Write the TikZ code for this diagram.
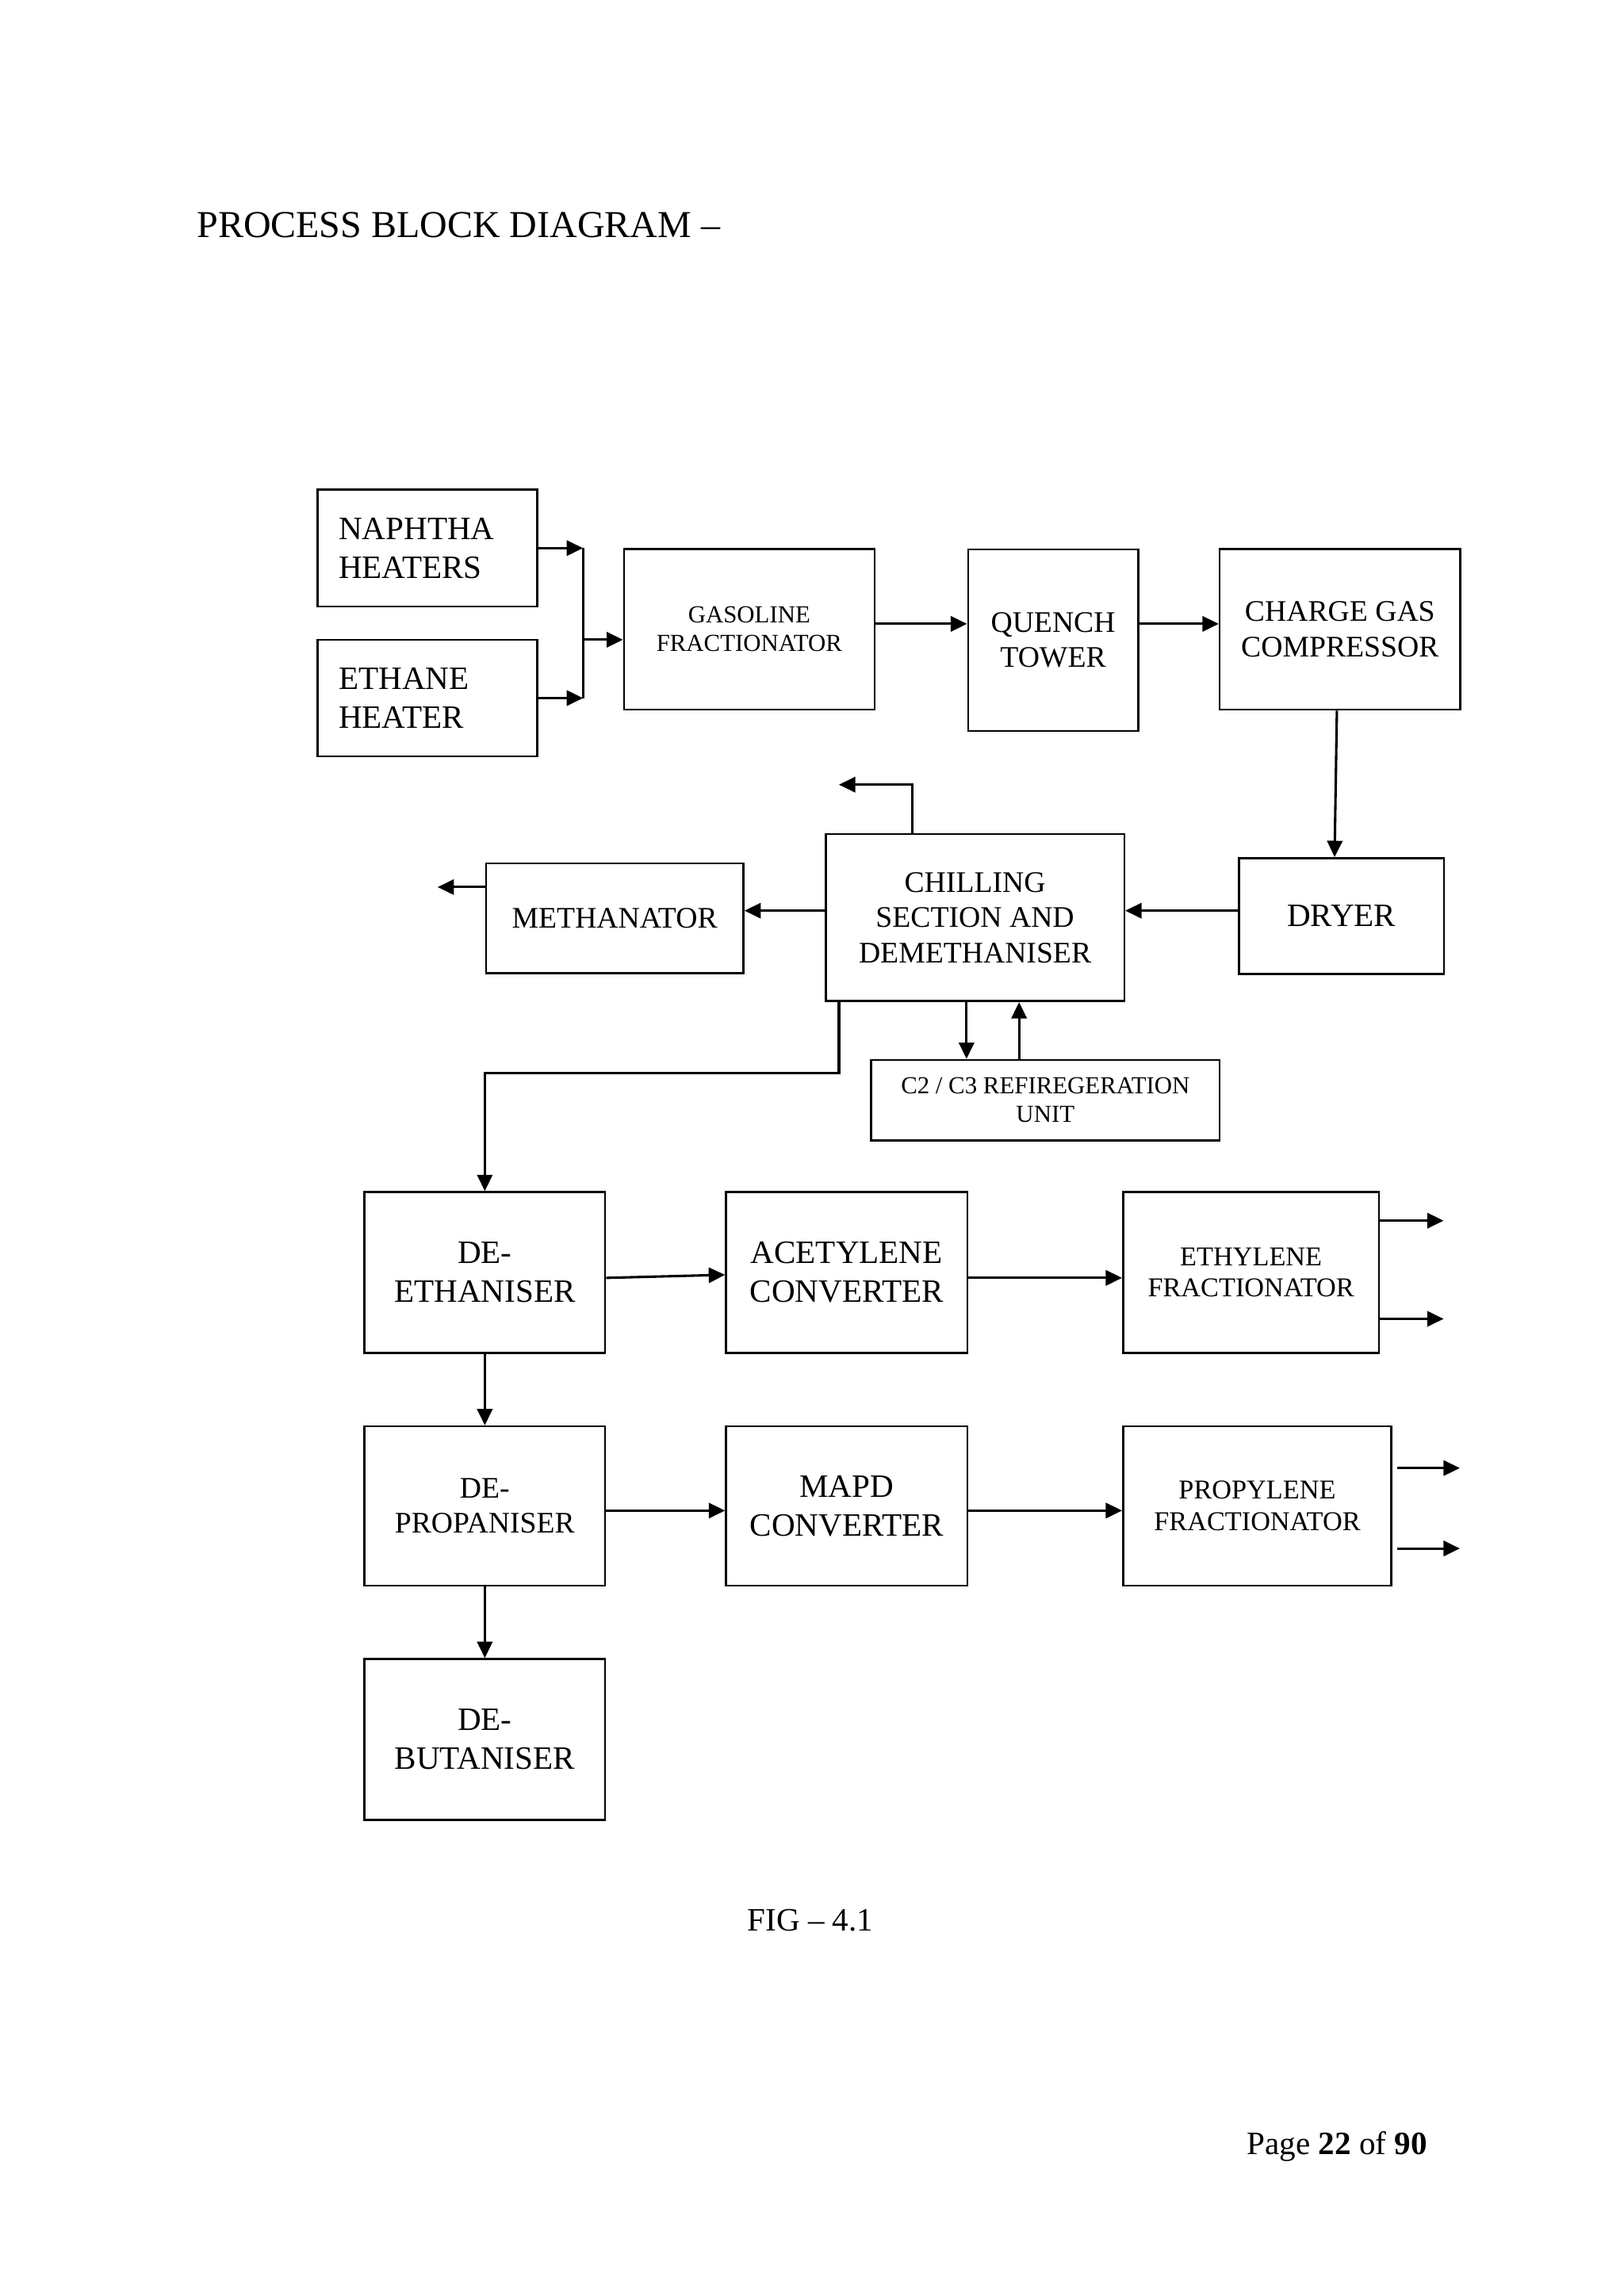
\documentclass[tikz,border=0pt]{standalone}
\usepackage{fontspec}
\setmainfont{Liberation Serif}
\usetikzlibrary{arrows.meta,positioning}

\begin{document}
\begin{tikzpicture}[
  %% ── node styles ────────────────────────────────────────────────────
  %% Plain process blocks
  BOX/.style={rectangle, draw, line width=0.75pt, align=center, inner sep=2pt},
  %% Blocks of the three DE- columns and converters
  COL/.style={BOX, minimum width=3.11cm, minimum height=2.08cm},
  %% Heater blocks (left-aligned text)
  HT/.style ={BOX, minimum width=2.84cm, minimum height=1.51cm,
              text width=2.30cm, inner xsep=0.27cm, align=left, F12},
  %% Font sizes
  F12/.style={font=\fontsize{12}{14.2}\selectfont},
  F11/.style={font=\fontsize{11}{13}\selectfont},
  F10/.style={font=\fontsize{10}{11.6}\selectfont},
  F9/.style ={font=\fontsize{9}{10.5}\selectfont},
  %% Arrows
  arr/.style={-{Triangle[length=6pt,width=5.6pt]}, line width=0.9pt},
  ln/.style ={line width=0.9pt},
]

%% page frame (A4)
\useasboundingbox (0,0) rectangle (21,-29.7);

%% ── heading, caption, footer ───────────────────────────────────────
\node[anchor=base west, font=\fontsize{14}{16}\selectfont, inner sep=0pt]
  (title) at (2.54,-3.07) {PROCESS BLOCK DIAGRAM --};
\node[anchor=base, F12, inner sep=0pt] (fig) at (10.48,-24.98) {FIG -- 4.1};
\node[anchor=base west, F12, inner sep=0pt] (page) at (16.12,-27.87)
  {Page \textbf{22} of \textbf{90}};

%% ── Row 1: heaters, gasoline fractionator, quench, compressor ───────
\node[HT] (naph) at (5.53,-7.09) {NAPHTHA\\HEATERS};
\node[HT] (eth)  at (5.53,-9.03) {ETHANE\\HEATER};

\node[BOX, F9, minimum width=3.24cm, minimum height=2.08cm] (gas) at (9.69,-8.14)
  {GASOLINE\\FRACTIONATOR};
\node[BOX, F11, minimum width=2.20cm, minimum height=2.35cm] (quench) at (13.62,-8.28)
  {QUENCH\\TOWER};
\node[BOX, F11, minimum width=3.11cm, minimum height=2.08cm] (cgc) at (17.33,-8.14)
  {CHARGE GAS\\COMPRESSOR};

%% feed header
\coordinate (hdr) at (7.54,-8.275);
\draw[arr] (naph.east) -- (naph.east -| hdr);
\draw[arr] (eth.east)  -- (eth.east -| hdr);
\draw[ln]  (naph.east -| hdr) -- (eth.east -| hdr);
\draw[arr] (hdr) -- (hdr -| gas.west);

%% cracked gas line
\coordinate (cg) at (0,-8.07);
\draw[arr] (cg -| gas.east)    -- (cg -| quench.west);
\draw[arr] (cg -| quench.east) -- (cg -| cgc.west);

%% ── Row 2: methanator, chilling, dryer ─────────────────────────────
\node[BOX, F12, minimum width=2.65cm, minimum height=1.50cm] (dryer) at (17.35,-11.85)
  {DRYER};
\node[BOX, F11, minimum width=3.86cm, minimum height=2.16cm] (chill) at (12.61,-11.87)
  {CHILLING\\SECTION AND\\DEMETHANISER};
\node[BOX, F11, minimum width=3.33cm, minimum height=1.42cm] (meth) at (7.95,-11.88)
  {METHANATOR};
\node[BOX, F9, minimum width=4.51cm, minimum height=1.04cm] (refr) at (13.52,-14.23)
  {C2 / C3 REFIREGERATION\\UNIT};

\draw[arr] ([xshift=-0.04cm]cgc.south) -- ([xshift=-0.09cm]dryer.north);
\coordinate (dg) at (0,-11.78);
\draw[arr] (dg -| dryer.west) -- (dg -| chill.east);
\draw[arr] (dg -| chill.west) -- (dg -| meth.east);

%% off-gas outlets
\coordinate (methout) at (5.66,-11.475);
\draw[arr] (methout -| meth.west) -- (methout);
\coordinate (topout) at (10.85,-10.15);
\coordinate (topx)   at (11.80,0);
\draw[arr] (topx |- chill.north) |- (topout);

%% refrigeration loop
\coordinate (rdn) at (12.50,0);
\coordinate (rup) at (13.18,0);
\draw[arr] (rdn |- chill.south) -- (rdn |- refr.north);
\draw[arr] (rup |- refr.north) -- (rup |- chill.south);

%% ── Rows 3-5: fractionation train ──────────────────────────────────
\node[COL, F12] (deeth)  at (6.27,-16.46) {DE-\\ETHANISER};
\node[COL, F12, minimum width=3.12cm] (acet) at (10.95,-16.46) {ACETYLENE\\CONVERTER};
\node[BOX, F10, minimum width=3.31cm, minimum height=2.08cm] (ethy) at (16.18,-16.46)
  {ETHYLENE\\FRACTIONATOR};

\node[COL, F11, minimum height=2.06cm] (deprop) at (6.27,-19.48) {DE-\\PROPANISER};
\node[COL, F12, minimum width=3.12cm, minimum height=2.06cm] (mapd) at (10.95,-19.48)
  {MAPD\\CONVERTER};
\node[BOX, F10, minimum width=3.47cm, minimum height=2.06cm] (prop) at (16.26,-19.48)
  {PROPYLENE\\FRACTIONATOR};

\node[COL, F12] (debut) at (6.27,-22.50) {DE-\\BUTANISER};

%% bottoms of chilling section to de-ethaniser
\coordinate (knee) at (10.85,-13.88);
\draw[arr] (knee |- chill.south) -- (knee) -| (deeth.north);

\draw[arr] ([yshift=-0.07cm]deeth.east) -- ([yshift=-0.03cm]acet.west);
\draw[arr] ([yshift=-0.07cm]acet.east)  -- ([yshift=-0.07cm]ethy.west);
\draw[arr] ([yshift=-0.06cm]deprop.east) -- ([yshift=-0.06cm]mapd.west);
\draw[arr] ([yshift=-0.06cm]mapd.east)   -- ([yshift=-0.06cm]prop.west);
\draw[arr] (deeth.south)  -- (deprop.north);
\draw[arr] (deprop.south) -- (debut.north);

%% product outlets
\coordinate (eo1) at (18.67,-15.79);
\coordinate (eo2) at (18.67,-17.06);
\coordinate (po1) at (18.88,-18.99);
\coordinate (po2) at (18.88,-20.03);
\foreach \c in {eo1, eo2}
  \draw[arr] (\c -| ethy.east) -- (\c);
\foreach \c in {po1, po2}
  \draw[arr] (\c -| prop.east) ++(0.06,0) -- (\c);

\end{tikzpicture}
\end{document}
